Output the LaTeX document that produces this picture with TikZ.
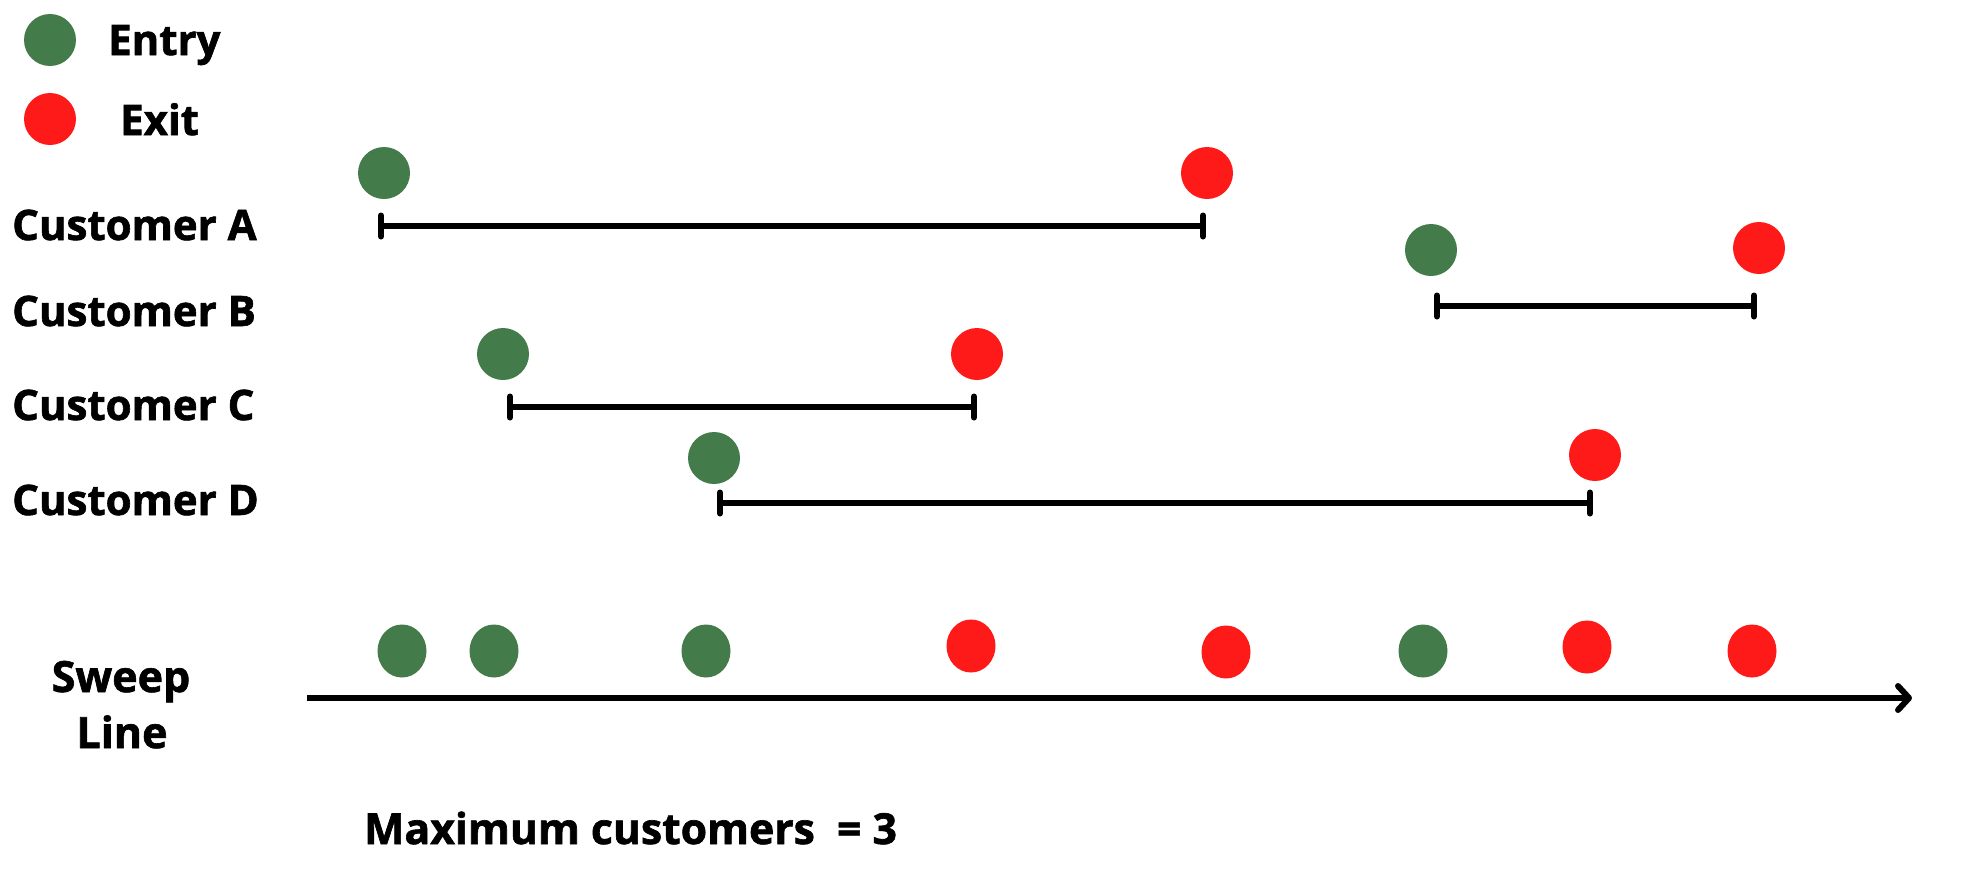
\documentclass[tikz,border=0pt]{standalone}
\usepackage{fontspec}
\setmainfont{Open Sans}[BoldFeatures={FakeBold=1.5}]
\usetikzlibrary{arrows.meta,shapes.geometric}
\definecolor{entrygreen}{RGB}{67,123,74}
\definecolor{exitred}{RGB}{255,26,26}

\begin{document}
\begin{tikzpicture}
  [
    x=1pt, y=-1pt,
    dot/.style={
      circle,
      inner sep=0pt,
      minimum size=52pt
    },
    sdot/.style={
      ellipse,
      inner sep=0pt,
      minimum width=49pt,
      minimum height=53pt
    },
    entry/.style={fill=entrygreen},
    exit/.style={fill=exitred},
    span/.style={
      line width=6pt,
      {Bar[width=21pt,round]}-{Bar[width=21pt,round]}
    },
    lbl/.style={
      font=\bfseries\fontsize{42}{50}\selectfont,
      anchor=base west,
      inner sep=0pt
    }
  ]
  \useasboundingbox (0,0) rectangle (1962,881);

  % legend
  \node [dot,entry] (legEntry) at (50,40) {};
  \node [dot,exit] (legExit) at (50,119) {};
  \node [lbl] (txtEntry) at (108,55) {Entry};
  \node [lbl] (txtExit) at (120,135) {Exit};

  % customers
  \foreach \c/\ly/\base/\lx/\rx/\gx/\gy/\ex/\ey in {
      A/226/240/378/1206/384/173/1207/173,
      B/306/326/1434/1757/1431/250/1759/248,
      C/407/420/507/977/503/354/977/354,
      D/503/515/717/1593/714/458/1595/455} {
    \node [lbl] (name\c) at (12,\base) {Customer \c};
    \node [dot,entry] (in\c) at (\gx,\gy) {};
    \node [dot,exit] (out\c) at (\ex,\ey) {};
    \coordinate (s\c) at (\lx,\ly);
    \coordinate (e\c) at (\rx,\ly);
    \draw [span] (s\c) -- (e\c);
  }

  % sweep line
  \coordinate (sweepStart) at (307,698);
  \coordinate (sweepEnd) at (1912,698);
  \draw [line width=6pt,-{Straight Barb[length=11pt,width=24pt,round]}] (sweepStart) -- (sweepEnd);
  \foreach \i/\x/\y/\k in {1/402/651/entry,2/494/651/entry,3/706/651/entry,4/971/646/exit,
      5/1226/652/exit,6/1423/651/entry,7/1587/647/exit,8/1752/651/exit} {
    \node [sdot,\k] (sw\i) at (\x,\y) {};
  }
  \node [lbl,anchor=base,font=\bfseries\fontsize{43}{50}\selectfont] (txtSweep) at (121,692) {Sweep};
  \node [lbl,anchor=base,font=\bfseries\fontsize{43}{50}\selectfont] (txtLine) at (122,748) {Line};

  \node [lbl,font=\bfseries\fontsize{42.7}{50}\selectfont] (txtMax) at (364,844) {Maximum customers\ \ = 3};
\end{tikzpicture}
\end{document}
